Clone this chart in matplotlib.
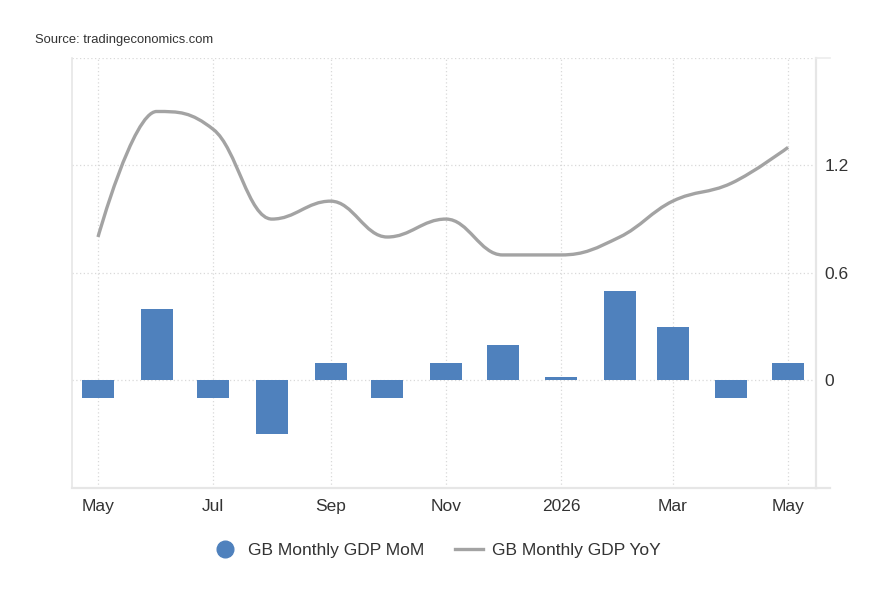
import matplotlib
matplotlib.use("Agg")
import matplotlib.pyplot as plt
from matplotlib.path import Path
from matplotlib.patches import PathPatch
from matplotlib.lines import Line2D
import numpy as np

plt.rcParams['font.family'] = ['Liberation Sans', 'DejaVu Sans']

# data (May 2025 .. May 2026)
months = ["2025-05", "2025-06", "2025-07", "2025-08", "2025-09", "2025-10", "2025-11",
          "2025-12", "2026-01", "2026-02", "2026-03", "2026-04", "2026-05"]
tick_labels = ["May", "", "Jul", "", "Sep", "", "Nov", "", "2026", "", "Mar", "", "May"]
gdp_mom = [-0.1, 0.4, -0.1, -0.3, 0.1, -0.1, 0.1, 0.2, 0.02, 0.5, 0.3, -0.1, 0.1]
gdp_yoy = [0.8, 1.5, 1.4, 0.9, 1.0, 0.8, 0.9, 0.7, 0.7, 0.8, 1.0, 1.1, 1.3]

bar_col = "#4f81bd"
line_col = "#a3a3a3"
txt_col = "#333333"
grid_col = "#d9d9d9"


def spline_path(xs, ys, smoothing=1.5):
    # highcharts-like spline: cubic bezier through each point
    n = len(xs)
    lc = [None] * n
    rc = [None] * n
    den = smoothing + 1
    for i in range(1, n - 1):
        x, y = xs[i], ys[i]
        lx, ly = xs[i - 1], ys[i - 1]
        nx, ny = xs[i + 1], ys[i + 1]
        lcx = (smoothing * x + lx) / den
        lcy = (smoothing * y + ly) / den
        rcx = (smoothing * x + nx) / den
        rcy = (smoothing * y + ny) / den
        if rcx != lcx:
            corr = ((rcy - lcy) * (rcx - x)) / (rcx - lcx) + y - rcy
            lcy += corr
            rcy += corr
        if lcy > ly and lcy > y:
            lcy = max(ly, y)
            rcy = 2 * y - lcy
        elif lcy < ly and lcy < y:
            lcy = min(ly, y)
            rcy = 2 * y - lcy
        if rcy > ny and rcy > y:
            rcy = max(ny, y)
            lcy = 2 * y - rcy
        elif rcy < ny and rcy < y:
            rcy = min(ny, y)
            lcy = 2 * y - rcy
        lc[i] = (lcx, lcy)
        rc[i] = (rcx, rcy)
    verts = [(xs[0], ys[0])]
    codes = [Path.MOVETO]
    for i in range(1, n):
        c1 = rc[i - 1] if rc[i - 1] is not None else (xs[i - 1], ys[i - 1])
        c2 = lc[i] if lc[i] is not None else (xs[i], ys[i])
        verts += [c1, c2, (xs[i], ys[i])]
        codes += [Path.CURVE4] * 3
    return Path(verts, codes)


# x in days since the first month, so spacing follows the calendar
d = np.array(months, dtype="datetime64[M]").astype("datetime64[D]")
x = (d - d[0]).astype(float)

fig = plt.figure(figsize=(8.75, 5.98), dpi=100)
ax = fig.add_axes([0.0823, 0.1839, 0.8503, 0.7196])

ax.bar(x, gdp_mom, width=16.9, color=bar_col, zorder=3)
ax.add_patch(PathPatch(spline_path(list(x), gdp_yoy), facecolor="none",
                       edgecolor=line_col, lw=2.4, zorder=4, capstyle="butt"))

ax.set_xlim(-13.75, 379.8)
ax.set_ylim(-0.6, 1.8)

ax.set_xticks(x)
ax.set_xticklabels(tick_labels)
ax.yaxis.tick_right()
ax.set_yticks([0, 0.6, 1.2])
ax.set_yticklabels(["0", "0.6", "1.2"])
ax.tick_params(axis="both", length=0, labelsize=12.5, colors=txt_col)
ax.tick_params(axis="x", pad=8)
ax.tick_params(axis="y", pad=6)

for v in [0, 0.6, 1.2, 1.8]:
    ax.axhline(v, color=grid_col, lw=0.9, ls=(0, (1, 2)), zorder=1)
for v in x[::2]:
    ax.axvline(v, color=grid_col, lw=0.9, ls=(0, (1, 2)), zorder=1)

ax.spines["top"].set_visible(False)
for s in ["left", "right", "bottom"]:
    ax.spines[s].set_color("#e6e6e6")
ax.spines["left"].set_linewidth(1.2)
ax.spines["right"].set_linewidth(1.6)
ax.spines["bottom"].set_linewidth(1.6)

# small stubs where the frame runs past the right axis
fig.add_artist(Line2D([816 / 875, 830 / 875], [1 - 488 / 598] * 2,
                      color="#e6e6e6", lw=1.6))
fig.add_artist(Line2D([816 / 875, 830 / 875], [1 - 57.7 / 598] * 2,
                      color="#ececec", lw=1.2))

fig.text(35 / 875, 1 - 40 / 598, "Source: tradingeconomics.com", fontsize=9.4,
         color=txt_col, va="center", ha="left")

handles = [Line2D([], [], marker="o", ls="none", markersize=12, color=bar_col),
           Line2D([], [], color=line_col, lw=2.4)]
fig.legend(handles, ["GB Monthly GDP MoM", "GB Monthly GDP YoY"],
           loc="center", bbox_to_anchor=(436 / 875, 1 - 550 / 598), ncol=2,
           frameon=False, fontsize=12.5, labelcolor=txt_col,
           handlelength=1.6, handletextpad=0.5, columnspacing=1.8)

fig.savefig("out.png", dpi=100)
